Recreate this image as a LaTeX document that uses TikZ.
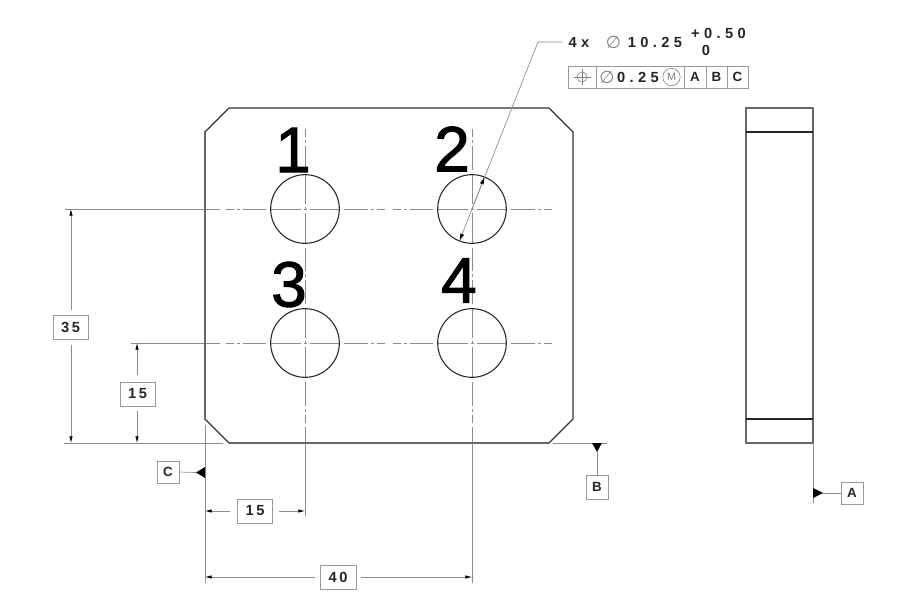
\documentclass[tikz,border=0pt]{standalone}
\usepackage{fontspec}
\setmainfont{Liberation Sans}
\newfontfamily\dimfont[LetterSpace=30]{Liberation Sans}
\newfontfamily\boxfont[LetterSpace=18]{Liberation Sans}
\newfontfamily\symfont{DejaVu Sans}
\newfontfamily\bigfont[FakeBold=1.6]{Liberation Sans}
\usetikzlibrary{arrows.meta}
\definecolor{thinc}{gray}{0.55}
\definecolor{boxc}{gray}{0.6}
\definecolor{edgec}{gray}{0.2}
\definecolor{heavyc}{gray}{0.4}
\tikzset{
  x=0.75pt,y=-0.75pt,
  edge/.style={draw=edgec,line width=0.85pt,line join=round,line cap=round},
  heavy edge/.style={draw=heavyc,line width=1.5pt,line cap=round},
  hole/.style={circle,draw=black!85,line width=0.8pt,minimum size=51.5pt,inner sep=0pt},
  halo/.style={circle,draw=white,line width=3pt,minimum size=55.5pt,inner sep=0pt},
  thin line/.style={draw=thinc,line width=0.5pt},
  center line/.style={thin line,dash pattern=on 6pt off 2.25pt on 2.25pt off 2.25pt on 43.5pt off 2.25pt on 2.25pt off 2.25pt on 43.5pt off 2.25pt on 2.25pt off 2.25pt on 6pt off 30pt},
  dimtip/.style={-{Latex[length=5pt,width=2.6pt,black]}},
  holetip/.style={-{Latex[length=5.5pt,width=3pt,black]}},
  dimbox/.style={draw=boxc,line width=0.55pt,inner sep=0pt,font=\boxfont\bfseries\fontsize{11}{12}\selectfont,text=black!85},
  datumbox/.style={draw=boxc,line width=0.55pt,inner sep=0pt,font=\bfseries\fontsize{10}{11}\selectfont,text=black!85},
  bignum/.style={inner sep=0pt,font=\bigfont\fontsize{48}{50}\selectfont,text=black},
  calltext/.style={inner sep=0pt,font=\dimfont\bfseries\fontsize{11}{12}\selectfont,text=black!85},
  phi/.style={inner sep=0pt,font=\symfont\fontsize{13}{14}\selectfont,text=black!50},
  framecell/.style={draw=boxc,line width=0.55pt},
  frameletter/.style={inner sep=0pt,font=\bfseries\fontsize{10}{11}\selectfont,text=black!85},
  possym/.style={draw=black!50,line width=0.45pt},
  datumtri/.style={fill=black,draw=none},
}
\begin{document}
\begin{tikzpicture}
\useasboundingbox (0,0) rectangle (915,613);
\fill[white] (0,0) rectangle (915,613);

% hole centres
\coordinate (h1) at (305,209);
\coordinate (h2) at (472,209);
\coordinate (h3) at (305,343);
\coordinate (h4) at (472,343);

% extension lines
\coordinate (e35a) at (65,209);
\coordinate (e35c) at (220,209);
\coordinate (e15a) at (131,343);
\coordinate (e15c) at (220,343);
\coordinate (base1) at (64,443);
\coordinate (base2) at (223,443);
\coordinate (base3) at (553,443);
\coordinate (base4) at (607,443);
\draw[thin line] (e35a) -- (e35c);
\draw[thin line] (e15a) -- (e15c);
\draw[thin line] (base1) -- (base2);
\draw[thin line] (base3) -- (base4);

% centre lines, one pair per hole
\foreach \hn/\cx/\cy in {1/305/209,2/472/209,3/305/343,4/472/343}{
  \coordinate (hl\hn) at (\cx-79.5,\cy);
  \coordinate (hr\hn) at (\cx+79.5,\cy);
  \coordinate (vt\hn) at (\cx,\cy-79.5);
  \coordinate (vb\hn) at (\cx,\cy+79.5);
  \draw[center line] (hl\hn) -- (hr\hn);
  \draw[center line] (vt\hn) -- (vb\hn);
}
\coordinate (v1a) at (305,427);
\coordinate (v1b) at (305,516);
\coordinate (v2a) at (472,427);
\coordinate (v2b) at (472,583);
\coordinate (v0a) at (205,425);
\coordinate (v0b) at (205,583);
\draw[thin line] (v1a) -- (v1b);
\draw[thin line] (v2a) -- (v2b);
\draw[thin line] (v0a) -- (v0b);

% plate
\draw[edge] (205,132) -- (229,108) -- (549,108) -- (573,132) -- (573,419) -- (549,443);
\draw[edge] (229,443) -- (205,419);
\draw[heavy edge] (205,132) -- (205,419);
\draw[heavy edge] (229,443) -- (549,443);

% holes
\foreach \hn in {1,2,3,4}{
  \node[halo] at (h\hn) {};
  \node[hole] (c\hn) at (h\hn) {};
}

% hole numbers
\node[bignum] (n1) at (293,150) {1};
\node[bignum] (n2) at (452,149) {2};
\node[bignum] (n3) at (289,284.5) {3};
\node[bignum] (n4) at (459,280.5) {4};

% side view
\coordinate (sa) at (746,108);
\coordinate (sb) at (813,108);
\coordinate (sc) at (813,443);
\coordinate (sd) at (746,443);
\draw[heavy edge] (sa) -- (sd);
\draw[heavy edge] (sb) -- (sc);
\draw[draw=heavyc,line width=1.2pt] (sa) -- (sb);
\draw[draw=heavyc,line width=1.2pt] (sd) -- (sc);
\coordinate (s1l) at (746,132);
\coordinate (s1r) at (813,132);
\coordinate (s2l) at (746,419);
\coordinate (s2r) at (813,419);
\draw[draw=black!85,line width=0.9pt] (s1l) -- (s1r);
\draw[draw=black!85,line width=0.9pt] (s2l) -- (s2r);

% dim 35
\node[dimbox,minimum width=26.25pt,minimum height=18pt] (d35) at (70.5,327) {35};
\coordinate (d35t) at (71,209);
\coordinate (d35b) at (71,443);
\draw[thin line,dimtip] (d35.north -| d35t) ++(0,-5) -- (d35t);
\draw[thin line,dimtip] (d35.south -| d35b) ++(0,6) -- (d35b);

% dim 15 vertical
\node[dimbox,minimum width=26.25pt,minimum height=18pt] (d15v) at (137.5,394) {15};
\coordinate (d15t) at (137,343);
\coordinate (d15b) at (137,443);
\draw[thin line,dimtip] (d15v.north -| d15t) ++(0,-7) -- (d15t);
\draw[thin line,dimtip] (d15v.south -| d15b) ++(0,5) -- (d15b);

% dim 15 horizontal
\node[dimbox,minimum width=26.25pt,minimum height=18pt] (d15h) at (255,511) {15};
\coordinate (d15l) at (205,511);
\coordinate (d15r) at (305,511);
\draw[thin line,dimtip] (d15h.west |- d15l) ++(-7,0) -- (d15l);
\draw[thin line,dimtip] (d15h.east |- d15r) ++(6,0) -- (d15r);

% dim 40
\node[dimbox,minimum width=27pt,minimum height=18pt] (d40) at (338,577) {40};
\coordinate (d40l) at (205,577);
\coordinate (d40r) at (472,577);
\draw[thin line,dimtip] (d40.west |- d40l) ++(-5,0) -- (d40l);
\draw[thin line,dimtip] (d40.east |- d40r) ++(5,0) -- (d40r);

% datum C
\node[datumbox,minimum width=16.5pt,minimum height=16.5pt] (dc) at (168,472) {C};
\coordinate (cb1) at (205,467);
\coordinate (cb2) at (205,478);
\coordinate (capex) at (196,472.5);
\fill[datumtri] (cb1) -- (cb2) -- (capex) -- cycle;
\draw[thin line] (dc.east) -- (capex);

% datum B
\node[datumbox,minimum width=16.5pt,minimum height=18pt] (db) at (597,487) {B};
\coordinate (bb1) at (592,443);
\coordinate (bb2) at (602,443);
\coordinate (bapex) at (597,452);
\fill[datumtri] (bb1) -- (bb2) -- (bapex) -- cycle;
\draw[thin line] (db.north) -- (bapex);

% datum A
\node[datumbox,minimum width=16.5pt,minimum height=16.5pt] (da) at (852,493) {A};
\coordinate (ab1) at (813,488);
\coordinate (ab2) at (813,498);
\coordinate (aapex) at (823,493);
\coordinate (atop) at (813,443);
\coordinate (abot) at (813,503);
\draw[thin line] (atop) -- (abot);
\fill[datumtri] (ab1) -- (ab2) -- (aapex) -- cycle;
\draw[thin line] (da.west) -- (aapex);

% leader
\coordinate (ls) at (538,42);
\coordinate (lt) at (562,42);
\coordinate (larr) at (459.5,241);
\coordinate (larr2) at (484.5,177);
\draw[thin line] (lt) -- (ls) -- (h2);
\draw[thin line,holetip] (h2) -- (larr);
\draw[thin line,holetip] (h2) -- (larr2);

% callout text
\node[calltext] (t4x) at (579,42) {4x};
\node[phi] (tphi) at (613.5,42) {∅};
\node[calltext] (t1025) at (655,42) {10.25};
\node[calltext] (tplus) at (718.5,33) {+0.50};
\node[calltext] (tzero) at (706,50.5) {0};

% feature control frame
\node[framecell,minimum width=135pt,minimum height=16.5pt,inner sep=0pt] (fcf) at (658,77) {};
\foreach \i/\x in {a/596,b/684,c/706,d/727}{
  \coordinate (f\i) at (\x,66);
  \draw[framecell] (f\i) -- (f\i |- fcf.south);
}
\node[circle,possym,minimum size=7.5pt,inner sep=0pt] (pos) at (582,77) {};
\coordinate (p1) at (573.5,77);
\coordinate (p2) at (590.5,77);
\coordinate (p3) at (582,69);
\coordinate (p4) at (582,85);
\draw[possym] (p1) -- (p2);
\draw[possym] (p3) -- (p4);
\node[phi] (fphi) at (607,77) {∅};
\node[calltext] (f025) at (638,77) {0.25};
\node[circle,possym,minimum size=13pt,inner sep=0pt,font=\fontsize{8}{9}\selectfont,text=black!50] (fm) at (671.5,77) {M};
\node[frameletter] (fA) at (695,77) {A};
\node[frameletter] (fB) at (716.5,77) {B};
\node[frameletter] (fC) at (737.5,77) {C};
\end{tikzpicture}
\end{document}
